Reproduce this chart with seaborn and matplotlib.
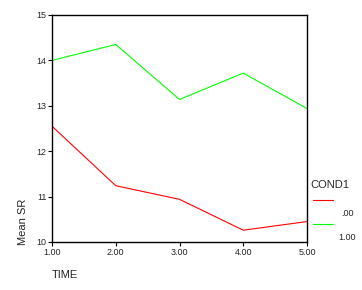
import matplotlib
matplotlib.use("Agg")
import matplotlib.pyplot as plt
import seaborn as sns
import pandas as pd
from matplotlib.lines import Line2D

time = [1, 2, 3, 4, 5]
cond0 = [12.55, 11.24, 10.94, 10.26, 10.45]
cond1 = [14.00, 14.35, 13.14, 13.72, 12.94]
cond_labels = [".00", "1.00"]
xticks = [1, 2, 3, 4, 5]
xtick_labels = ["1.00", "2.00", "3.00", "4.00", "5.00"]
yticks = [10, 11, 12, 13, 14, 15]

df = pd.DataFrame({
    "TIME": time * 2,
    "Mean SR": cond0 + cond1,
    "COND1": [cond_labels[0]] * 5 + [cond_labels[1]] * 5,
})

sns.set_style("ticks")
plt.rcParams['font.family'] = ['Liberation Sans', 'DejaVu Sans']

fig = plt.figure(figsize=(3.62, 2.90), dpi=100)
ax = fig.add_axes([52/362, 48/290, 255/362, 227/290])
colors = {".00": "#ff0000", "1.00": "#00ff00"}
sns.lineplot(data=df, x="TIME", y="Mean SR", hue="COND1", palette=colors,
             ax=ax, linewidth=0.8, legend=False)

ax.set_xlim(1, 5)
ax.set_ylim(10, 15)
ax.set_xticks(xticks)
ax.set_xticklabels(xtick_labels)
ax.set_yticks(yticks)
ax.tick_params(axis="both", labelsize=6.5, length=3, width=0.8, pad=1, color="black")
for s in ax.spines.values():
    s.set_visible(True)
    s.set_linewidth(1.0)
    s.set_color("black")
ax.set_xlabel("")
ax.set_ylabel("")

fig.text(23/362, 1 - 222/290, "Mean SR", rotation=90, ha="center", va="center", fontsize=8)
fig.text(52/362, 1 - 275/290, "TIME", ha="left", va="center", fontsize=8)

# legend
fig.text(310/362, 1 - 185/290, "COND1", ha="left", va="center", fontsize=8)
fig.add_artist(Line2D([313/362, 333/362], [1 - 200/290, 1 - 200/290], color="#ff0000", lw=0.8))
fig.add_artist(Line2D([313/362, 333/362], [1 - 224/290, 1 - 224/290], color="#00ff00", lw=0.8))
fig.text(341/362, 1 - 213/290, cond_labels[0], ha="left", va="center", fontsize=6.5)
fig.text(338/362, 1 - 237/290, cond_labels[1], ha="left", va="center", fontsize=6.5)

fig.savefig("out.png", dpi=100)
